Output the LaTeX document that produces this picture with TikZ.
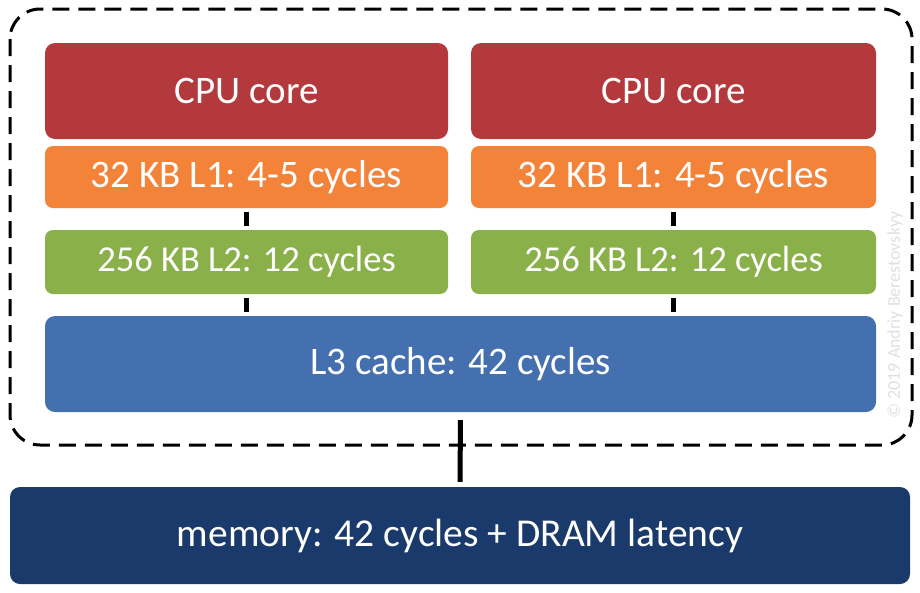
\documentclass[tikz,border=0pt]{standalone}
\usepackage{fontspec}
\setmainfont{Carlito}
\begin{document}
\begin{tikzpicture}[x=1pt,y=-1pt,
 box/.style={rounded corners=10pt,inner sep=0pt,text=white,font=\fontsize{39}{46}\selectfont},
 link/.style={line width=5pt,shorten >=4pt,shorten <=4pt}]
\definecolor{cpu}{RGB}{179,57,61}
\definecolor{lone}{RGB}{244,131,58}
\definecolor{ltwo}{RGB}{138,176,74}
\definecolor{lthree}{RGB}{68,112,176}
\definecolor{mem}{RGB}{27,58,108}
\useasboundingbox (0,0) rectangle (920,592);
\draw[line width=3pt,dash pattern=on 17pt off 9pt,rounded corners=30pt] (10,9) rectangle (912,445);
\node[box,fill=cpu,minimum width=403pt,minimum height=96pt] (c1) at (246.5,91) {CPU core};
\node[box,fill=cpu,minimum width=405pt,minimum height=96pt] (c2) at (673.5,91) {CPU core};
\node[box,fill=lone,minimum width=403pt,minimum height=62pt,rounded corners=8pt] (a1) at (246.5,177) {32 KB L1: 4-5 cycles};
\node[box,fill=lone,minimum width=405pt,minimum height=62pt,rounded corners=8pt] (a2) at (673.5,177) {32 KB L1: 4-5 cycles};
\node[box,fill=ltwo,minimum width=403pt,minimum height=64pt,rounded corners=8pt,font=\fontsize{36.5}{42}\selectfont] (b1) at (246.5,262) {256 KB L2: 12 cycles};
\node[box,fill=ltwo,minimum width=405pt,minimum height=64pt,rounded corners=8pt,font=\fontsize{36.5}{42}\selectfont] (b2) at (673.5,262) {256 KB L2: 12 cycles};
\node[box,fill=lthree,minimum width=831pt,minimum height=96pt] (l3) at (460.5,364) {L3 cache: 42 cycles};
\node[box,fill=mem,minimum width=900pt,minimum height=97pt,font=\fontsize{39.5}{46}\selectfont] (m) at (460,535.5) {memory: 42 cycles + DRAM latency};
\draw[link] (a1.south) -- (b1.north);
\draw[link] (a2.south) -- (b2.north);
\draw[link] (b1.south) -- (b1.south |- l3.north);
\draw[link] (b2.south) -- (b2.south |- l3.north);
\draw[line width=5pt,shorten >=5pt,shorten <=8pt] (l3.south) -- (m.north);
\node[rotate=90,text=black!12,font=\fontsize{18}{21}\selectfont] (wm) at (895,315) {\copyright{} 2019 Andriy Berestovskyy};
\end{tikzpicture}
\end{document}
